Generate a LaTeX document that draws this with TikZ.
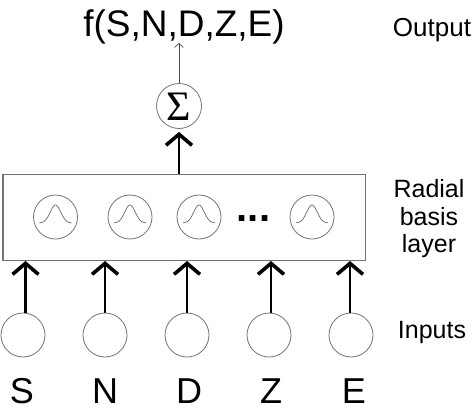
\documentclass[tikz,border=0pt]{standalone}
\usepackage{fontspec}
\setmainfont{Liberation Sans}
\newfontfamily\sigfont{Liberation Serif}
\usetikzlibrary{arrows.meta}
\tikzset{
  unit/.style={circle, draw=black!55, line width=0.8pt, minimum size=44pt, inner sep=0pt},
  rbf/.style={circle, draw=black!55, line width=0.8pt, minimum size=44pt, inner sep=0pt},
  thick arrow/.style={line width=2.2pt, -{Straight Barb[length=11pt,width=26pt,line width=3.6pt]}},
  thin arrow/.style={line width=0.7pt, draw=black!70, -{Straight Barb[length=4pt,width=9pt]}},
  gauss/.style={black!60, line width=0.7pt},
  sidelbl/.style={inner sep=0pt, align=center, font=\fontsize{25}{27.5}\selectfont},
  letter/.style={inner sep=0pt, anchor=base, font=\fontsize{36}{40}\selectfont}
}
\begin{document}
\begin{tikzpicture}[x=1pt,y=-1pt]
\useasboundingbox (0,0) rectangle (474,413);
% output
\node[anchor=base, inner sep=0pt, font=\fontsize{37}{40}\selectfont] (out) at (184,36) {f(S,N,D,Z,E)};
\coordinate (outtip) at (179,43);
\node[sidelbl, font=\fontsize{26}{30}\selectfont] (outlbl) at (432,30) {Output};
% sigma
\node[unit, minimum size=45pt] (sig) at (179,106) {};
\node[inner sep=0pt, font=\sigfont\fontsize{42}{44}\selectfont] (sigsym) at (179,107) {Σ};
\draw[thin arrow] (sig.north) -- (outtip);
% box
\node[draw=black!55, line width=1pt, minimum width=362pt, minimum height=86pt, inner sep=0pt] (box) at (184.5,217.5) {};
\draw[black!55, line width=2.5pt] (box.north west) -- (box.south west);
\draw[thick arrow] (box.north -| sig) -- ([yshift=-3pt]sig.south);
% rbf units
\foreach \n/\xc in {r1/55.5, r2/130, r3/199, r5/312}{
  \node[rbf] (\n) at (\xc,217) {};
  \draw[gauss, variable=\t, domain=-16:16, samples=60, smooth]
    plot ({\xc+\t}, {223-18*exp(-(\t*\t)/55)});
}
\node[inner sep=0pt, anchor=base, font=\fontsize{40}{42}\selectfont\bfseries] (dots) at (253.5,221) {...};
\node[sidelbl] (rbl) at (429,219) {Radial\\basis\\layer};
% inputs
\foreach \n/\xc/\ax/\lx/\lab in {iS/23/25.5/22/S, iN/105/105/105/N, iD/187/187/189/D, iZ/269/271/271/Z, iE/351/350/354/E}{
  \node[unit] (\n) at (\xc,335) {};
  \node[letter] (l\n) at (\lx,403) {\lab};
  \coordinate (t\n) at (\ax,261);
  \draw[thick arrow] (\n.north -| t\n) -- (t\n);
}
\node[sidelbl] (inlbl) at (432,332) {Inputs};
\end{tikzpicture}
\end{document}
